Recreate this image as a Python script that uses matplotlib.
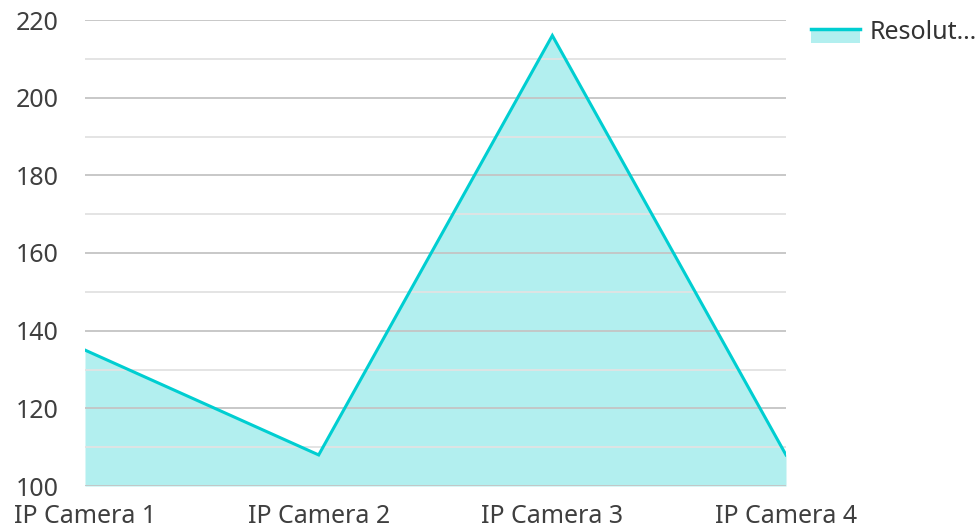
import matplotlib
matplotlib.use("Agg")
import matplotlib.pyplot as plt
from matplotlib.patches import Rectangle
from matplotlib.lines import Line2D
from matplotlib.legend_handler import HandlerBase

plt.rcParams['font.family'] = ['Noto Sans', 'DejaVu Sans']

categories = ["IP Camera 1", "IP Camera 2", "IP Camera 3", "IP Camera 4"]
values = [135, 108, 216, 108]
series_name = "Resolut…"
y_ticks = [100, 120, 140, 160, 180, 200, 220]
y_minor = [110, 130, 150, 170, 190, 210]

line_color = "#00CED1"
fill_color = "#B2EFEF"

fig = plt.figure(figsize=(9.78, 5.28), dpi=100)
ax = fig.add_axes([85/978, 1-486/528, (786-85)/978, (486-20)/528])

x = list(range(len(categories)))
ax.fill_between(x, values, 100, color=fill_color, lw=0, zorder=1)
ax.plot(x, values, color=line_color, lw=2.2, zorder=3, solid_joinstyle='miter')

ax.set_xlim(0, len(categories)-1)
ax.set_ylim(100, 220)
ax.set_yticks(y_ticks)
ax.set_yticks(y_minor, minor=True)
ax.set_xticks(x)
ax.set_xticklabels(categories)

ax.grid(True, axis='y', which='major', color='#c4c4c4', lw=1.3, zorder=2)
ax.grid(True, axis='y', which='minor', color='#e2e2e2', lw=1.3, zorder=2)
ax.set_axisbelow(False)
for s in ax.spines.values():
    s.set_visible(False)
ax.tick_params(axis='both', which='both', length=0, labelsize=18, labelcolor='#3f3f3f')
ax.tick_params(axis='y', pad=19)
ax.tick_params(axis='x', pad=13)


class FillLineHandler(HandlerBase):
    def create_artists(self, legend, orig_handle, xdescent, ydescent,
                       width, height, fontsize, trans):
        y0 = -ydescent - 0.25 * height
        h = height * 0.85
        r = Rectangle((-xdescent, y0), width, h, facecolor=fill_color,
                      edgecolor='none', transform=trans)
        l = Line2D([-xdescent, -xdescent + width], [y0 + h] * 2,
                   color=line_color, lw=2.5, transform=trans)
        return [r, l]


handle = Rectangle((0, 0), 1, 1)
leg = fig.legend([handle], [series_name], handler_map={Rectangle: FillLineHandler()},
                 loc='upper left', bbox_to_anchor=(811/978, 1-20/528),
                 frameon=False, fontsize=18, handlelength=1.95, handletextpad=0.4,
                 borderpad=0, borderaxespad=0)
for t in leg.get_texts():
    t.set_color('#333333')

fig.savefig("out.png", dpi=100)
